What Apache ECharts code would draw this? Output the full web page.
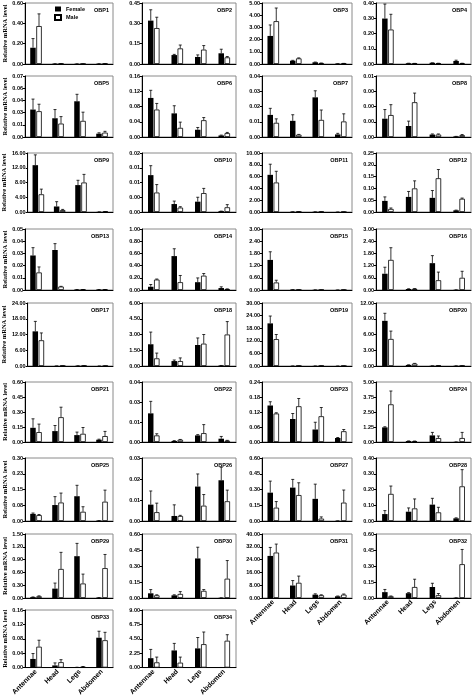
<!DOCTYPE html>
<html>
<head>
<meta charset="utf-8">
<script src="https://cdn.jsdelivr.net/npm/echarts@6/dist/echarts.min.js"></script>
<style>
  html, body { margin: 0; padding: 0; background: #fff; }
  #main { width: 474px; height: 698px; }
</style>
</head>
<body>
<div id="main"></div>
<script>
// tissues on every x axis
var tissues = ['Antennae', 'Head', 'Legs', 'Abdomen'];

// y tick labels per panel, bottom to top (the last one is the axis max)
var tickLabels = [
  ['0.00','0.20','0.40','0.60'],
  ['0.00','0.15','0.30','0.45'],
  ['0.00','1.00','2.00','3.00','4.00','5.00'],
  ['0.00','0.10','0.20','0.30','0.40'],
  ['0.00','0.01','0.03','0.04','0.06','0.07'],
  ['0.00','0.04','0.08','0.12','0.16'],
  ['0.00','0.01','0.02','0.03','0.04'],
  ['0.00','0.00','0.00','0.00','0.01'],
  ['0.00','4.00','8.00','12.00','16.00'],
  ['0.00','0.00','0.01','0.01','0.02'],
  ['0.00','2.00','4.00','6.00','8.00','10.00'],
  ['0.00','0.05','0.10','0.15','0.20','0.25'],
  ['0.00','0.01','0.02','0.03','0.04','0.05'],
  ['0.00','0.20','0.40','0.60','0.80','1.00'],
  ['0.00','0.60','1.20','1.80','2.40','3.00'],
  ['0.00','0.60','1.20','1.80','2.40','3.00'],
  ['0.00','6.00','12.00','18.00','24.00'],
  ['0.00','1.50','3.00','4.50','6.00'],
  ['0.00','6.00','12.00','18.00','24.00','30.00'],
  ['0.00','3.00','6.00','9.00','12.00'],
  ['0.00','0.15','0.30','0.45','0.60'],
  ['0.00','0.01','0.03','0.04'],
  ['0.00','0.06','0.12','0.18','0.24'],
  ['0.00','1.25','2.50','3.75','5.00'],
  ['0.00','0.08','0.15','0.23','0.30'],
  ['0.00','0.01','0.02','0.03'],
  ['0.00','0.15','0.30','0.45','0.60'],
  ['0.00','0.10','0.20','0.30','0.40'],
  ['0.00','0.30','0.60','0.90','1.20','1.50'],
  ['0.00','0.15','0.30','0.45','0.60'],
  ['0.00','8.00','16.00','24.00','32.00','40.00'],
  ['0.00','0.15','0.30','0.45','0.60'],
  ['0.00','0.04','0.08','0.12','0.16'],
  ['0.00','2.25','4.50','6.75','9.00']
];

// relative expression, one row per OBP: [Antennae, Head, Legs, Abdomen]
var femaleLevel = [
  [0.16, 0.003, 0.002, 0.003],
  [0.32, 0.066, 0.052, 0.079],
  [2.30, 0.27, 0.14, 0.03],
  [0.298, 0.005, 0.008, 0.02],
  [0.0315, 0.0215, 0.041, 0.0038],
  [0.1025, 0.062, 0.019, 0.004],
  [0.0145, 0.0106, 0.026, 0.0017],
  [0.003, 0.0018, 0.0004, 0.0001],
  [12.7, 1.5, 7.3, 0.05],
  [0.0125, 0.0027, 0.0035, 0.0003],
  [6.3, 0.05, 0.04, 0.01],
  [0.047, 0.064, 0.06, 0.007],
  [0.0283, 0.0328, 0.0004, 0.0004],
  [0.053, 0.556, 0.128, 0.032],
  [1.48, 0.02, 0.01, 0.005],
  [0.80, 0.05, 1.32, 0.01],
  [13.2, 0.05, 0.1, 0.02],
  [2.07, 0.47, 2.0, 0.05],
  [20.3, 0.05, 0.05, 0.02],
  [8.6, 0.2, 0.05, 0.04],
  [0.142, 0.109, 0.069, 0.023],
  [0.0191, 0.0007, 0.0044, 0.0022],
  [0.146, 0.092, 0.05, 0.016],
  [1.22, 0.08, 0.55, 0.01],
  [0.034, 0.076, 0.118, 0.002],
  [0.0078, 0.0024, 0.0164, 0.0194],
  [0.27, 0.318, 0.211, 0.002],
  [0.044, 0.059, 0.104, 0.017],
  [0.02, 0.22, 0.98, 0.01],
  [0.044, 0.025, 0.371, 0.002],
  [26.3, 7.8, 2.1, 1.05],
  [0.055, 0.045, 0.103, 0.002],
  [0.024, 0.006, 0.001, 0.083],
  [1.47, 2.68, 3.0, 0.02]
];
var femaleSE = [
  [0.09, 0, 0, 0],
  [0.08, 0.005, 0.015, 0.03],
  [0.9, 0.03, 0.02, 0],
  [0.095, 0, 0, 0.005],
  [0.012, 0.01, 0.008, 0.001],
  [0.02, 0.02, 0.006, 0.001],
  [0.0043, 0.004, 0.0043, 0.0007],
  [0.0015, 0.0008, 0.0001, 0],
  [2.8, 1.3, 1.3, 0],
  [0.0032, 0.001, 0.0015, 0],
  [1.8, 0, 0, 0],
  [0.017, 0.023, 0.031, 0.001],
  [0.0064, 0.0052, 0, 0],
  [0.037, 0.12, 0.07, 0.02],
  [0.4, 0, 0, 0],
  [0.32, 0.01, 0.37, 0],
  [3.8, 0, 0, 0],
  [1.16, 0.1, 0.67, 0],
  [3.5, 0, 0, 0],
  [1.44, 0.03, 0, 0],
  [0.09, 0.056, 0.03, 0.005],
  [0.008, 0.0002, 0.0005, 0.0015],
  [0.015, 0.022, 0.029, 0.002],
  [0.05, 0.01, 0.25, 0],
  [0.004, 0.04, 0.052, 0],
  [0.0065, 0.0053, 0.006, 0.0062],
  [0.11, 0.078, 0.14, 0],
  [0.022, 0.024, 0.04, 0.003],
  [0.005, 0.13, 0.3, 0],
  [0.035, 0.005, 0.105, 0],
  [5.3, 3.1, 0.5, 0.2],
  [0.025, 0.005, 0.035, 0],
  [0.015, 0.007, 0, 0.018],
  [1.37, 1.1, 1.7, 0]
];
var maleLevel = [
  [0.373, 0.003, 0.001, 0.003],
  [0.265, 0.115, 0.106, 0.049],
  [3.51, 0.46, 0.08, 0.05],
  [0.226, 0.004, 0.005, 0.005],
  [0.0296, 0.0154, 0.0185, 0.005],
  [0.072, 0.024, 0.044, 0.01],
  [0.0093, 0.0015, 0.0112, 0.0102],
  [0.0036, 0.0057, 0.0004, 0.0003],
  [4.8, 0.5, 8.0, 0.1],
  [0.0066, 0.0015, 0.0064, 0.0016],
  [5.0, 0.04, 0.03, 0.01],
  [0.013, 0.10, 0.143, 0.056],
  [0.0144, 0.0028, 0.0004, 0.0004],
  [0.171, 0.128, 0.235, 0.016],
  [0.37, 0.01, 0.005, 0.005],
  [1.48, 0.06, 0.48, 0.6],
  [9.8, 0.05, 0.1, 0.02],
  [0.73, 0.47, 2.13, 3.0],
  [12.8, 0.05, 0.05, 0.02],
  [5.15, 0.45, 0.05, 0.04],
  [0.099, 0.248, 0.082, 0.059],
  [0.0044, 0.0015, 0.0059, 0.0009],
  [0.114, 0.143, 0.103, 0.043],
  [3.14, 0.07, 0.33, 0.33],
  [0.028, 0.088, 0.044, 0.092],
  [0.0042, 0.0024, 0.0073, 0.0094],
  [0.127, 0.247, 0.023, 0.175],
  [0.172, 0.08, 0.055, 0.22],
  [0.04, 0.68, 0.34, 0.70],
  [0.025, 0.038, 0.067, 0.181],
  [28.4, 9.5, 1.7, 2.1],
  [0.016, 0.103, 0.026, 0.317],
  [0.058, 0.015, 0.002, 0.076],
  [0.82, 0.77, 3.66, 4.2]
];
var maleSE = [
  [0.12, 0, 0, 0],
  [0.08, 0.025, 0.03, 0.006],
  [1.08, 0.04, 0, 0],
  [0.10, 0, 0, 0],
  [0.008, 0.008, 0.01, 0.0015],
  [0.016, 0.015, 0.007, 0.002],
  [0.0026, 0.0002, 0.0065, 0.005],
  [0.0017, 0.0015, 0.0001, 0.0001],
  [1.4, 0.2, 2.2, 0],
  [0.0027, 0.0003, 0.0016, 0.0009],
  [1.9, 0, 0, 0],
  [0.004, 0.032, 0.037, 0.003],
  [0.0045, 0.0002, 0, 0],
  [0.009, 0.11, 0.035, 0.002],
  [0.11, 0, 0, 0],
  [0.6, 0.01, 0.4, 0.32],
  [2.8, 0, 0, 0],
  [0.5, 0.3, 0.87, 1.23],
  [2.2, 0, 0, 0],
  [1.5, 0.05, 0, 0],
  [0.08, 0.1, 0.063, 0.047],
  [0.0011, 0.0002, 0.0057, 0.0002],
  [0.003, 0.031, 0.035, 0.007],
  [1.11, 0.01, 0.17, 0.47],
  [0.003, 0.045, 0.024, 0.055],
  [0.0043, 0.0003, 0.0053, 0.0053],
  [0.058, 0.117, 0.016, 0.12],
  [0.05, 0.06, 0.032, 0.106],
  [0.01, 0.39, 0.22, 0.32],
  [0.005, 0.022, 0.012, 0.17],
  [5.3, 4.2, 0.3, 0.4],
  [0.003, 0.073, 0.016, 0.138],
  [0.018, 0.007, 0.001, 0.022],
  [0.82, 0.87, 1.9, 0.94]
];

// panel frames (pixels)
var colLeft = [25, 142, 262, 376];
var colWidth = [88, 94, 90, 95];
var rowTop = [3, 76, 153, 229, 303, 382, 458, 534, 610];
var rowHeight = [61, 61, 59, 61, 63, 60, 63, 64, 60];
var labelled = [30, 31, 32, 33]; // panels that show the tissue names

var BAR_W = 5.5, SHIFT = 3;

var myChart = echarts.init(document.getElementById('main'));

function errorBars(shift) {
  return function (params, api) {
    var x = api.value(0), m = api.value(1), e = api.value(2);
    var p0 = api.coord([x, m]);
    var p1 = api.coord([x, m + e]);
    var cx = p0[0] + shift;
    return {
      type: 'group',
      children: [
        {type: 'line', shape: {x1: cx, y1: p0[1], x2: cx, y2: p1[1]}, style: {stroke: '#000', lineWidth: 0.8}},
        {type: 'line', shape: {x1: cx - 1.5, y1: p1[1], x2: cx + 1.5, y2: p1[1]}, style: {stroke: '#000', lineWidth: 0.8}}
      ]
    };
  };
}

var grids = [], xAxes = [], yAxes = [], titles = [], series = [];

femaleLevel.forEach(function (fem, p) {
  var r = Math.floor(p / 4), c = p % 4;
  var left = colLeft[c], top = rowTop[r], w = colWidth[c], h = rowHeight[r];
  var labels = tickLabels[p];
  var max = parseFloat(labels[labels.length - 1]);
  var step = max / (labels.length - 1);

  grids.push({left: left, top: top, width: w, height: h, show: true, borderColor: '#8a8a8a', borderWidth: 1});

  xAxes.push({
    type: 'category', gridIndex: p, data: tissues,
    axisLine: {lineStyle: {color: '#000', width: 1}},
    axisTick: {show: false},
    axisLabel: {
      show: labelled.indexOf(p) >= 0, rotate: 45, interval: 0, margin: 3,
      fontSize: 7, fontWeight: 'bold', color: '#000'
    }
  });

  yAxes.push({
    type: 'value', gridIndex: p, min: 0, max: max, interval: step,
    splitLine: {show: false},
    axisLine: {show: true, lineStyle: {color: '#000', width: 1}},
    axisTick: {show: true, length: 2, lineStyle: {color: '#000'}},
    axisLabel: {
      fontSize: 5.5, fontWeight: 'bold', color: '#000', margin: 2,
      formatter: function (v) { return labels[Math.round(v / step)]; }
    },
    name: c === 0 ? 'Relative mRNA level' : '',
    nameLocation: 'middle', nameGap: 14,
    nameTextStyle: {fontFamily: 'Liberation Serif', fontSize: 6.5, fontWeight: 'bold', color: '#000'}
  });

  titles.push({
    text: 'OBP' + (p + 1), padding: 0,
    right: 474 - (left + w) + 4, top: top + 4,
    textStyle: {fontSize: 5.5, fontWeight: 'bold', color: '#000'}
  });

  series.push({
    type: 'bar', name: 'Female', xAxisIndex: p, yAxisIndex: p,
    data: fem, barWidth: BAR_W, barGap: '10%',
    itemStyle: {color: '#000'}
  });
  series.push({
    type: 'bar', name: 'Male', xAxisIndex: p, yAxisIndex: p,
    data: maleLevel[p], barWidth: BAR_W, barGap: '10%',
    itemStyle: {color: '#fff', borderColor: '#000', borderWidth: 0.8}
  });
  series.push({
    type: 'custom', xAxisIndex: p, yAxisIndex: p, z: 3, silent: true,
    renderItem: errorBars(-SHIFT), encode: {x: 0, y: 1},
    data: fem.map(function (v, i) { return [i, v, femaleSE[p][i]]; })
  });
  series.push({
    type: 'custom', xAxisIndex: p, yAxisIndex: p, z: 3, silent: true,
    renderItem: errorBars(SHIFT), encode: {x: 0, y: 1},
    data: maleLevel[p].map(function (v, i) { return [i, v, maleSE[p][i]]; })
  });
});

myChart.setOption({
  animation: false,
  backgroundColor: '#fff',
  textStyle: {fontFamily: 'Liberation Sans'},
  title: titles,
  legend: {
    data: ['Female', 'Male'], orient: 'vertical', left: 54, top: 6,
    padding: 0, itemWidth: 6, itemHeight: 5, itemGap: 2, selectedMode: false,
    icon: 'rect',
    textStyle: {fontSize: 5.5, fontWeight: 'bold', color: '#000', padding: [0, 0, 0, 0]}
  },
  grid: grids,
  xAxis: xAxes,
  yAxis: yAxes,
  series: series
});
</script>
</body>
</html>
